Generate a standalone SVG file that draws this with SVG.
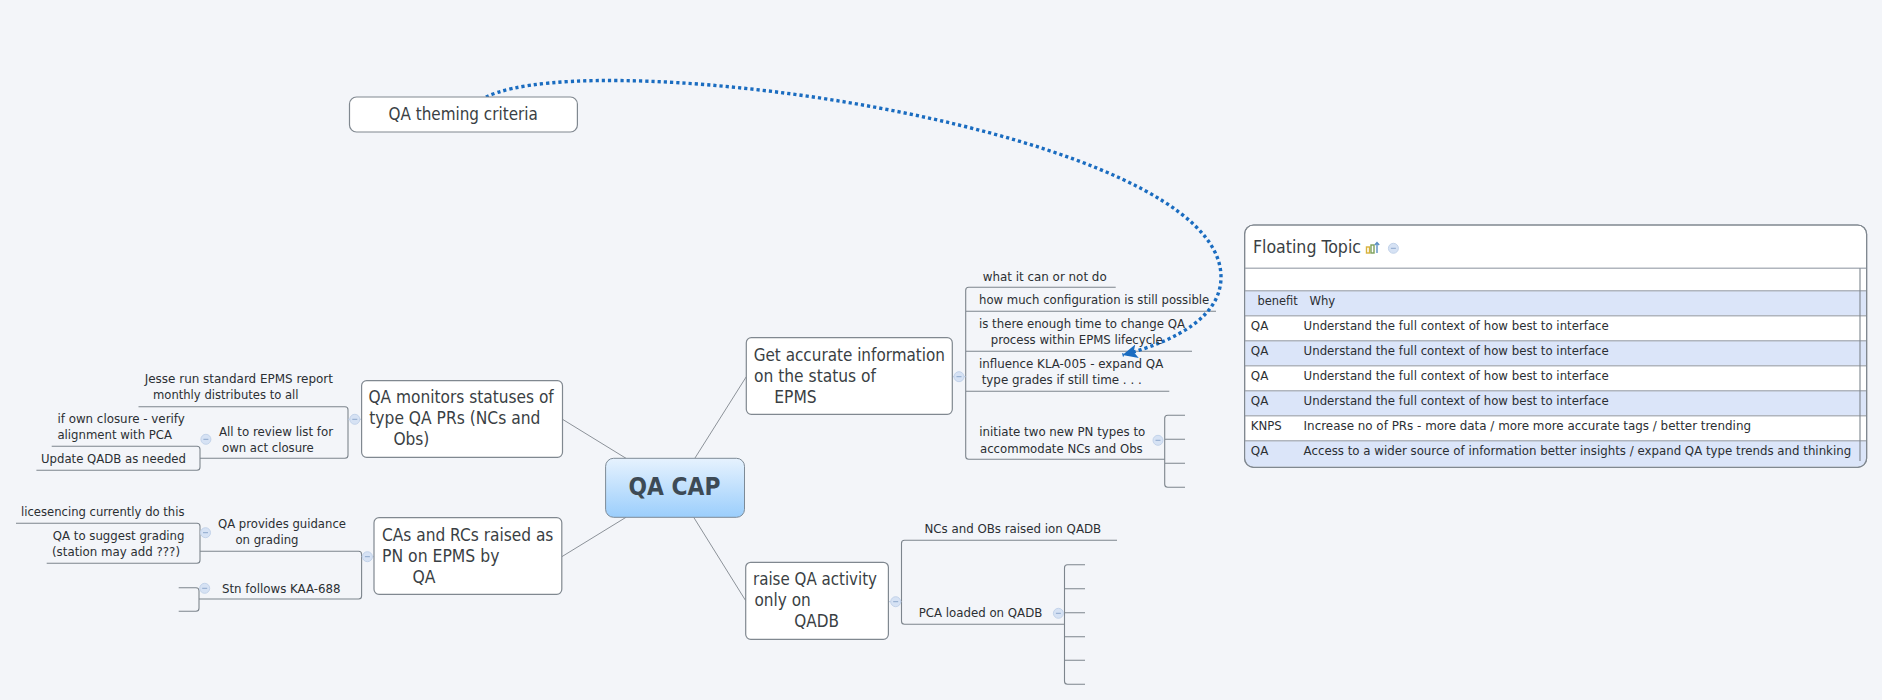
<svg xmlns="http://www.w3.org/2000/svg" width="1882" height="700" viewBox="0 0 1882 700">
<style>
text{font-family:"DejaVu Sans Condensed","DejaVu Sans","Liberation Sans",sans-serif;font-stretch:condensed;fill:#2b2f33}
.s{font-size:13px}
.m{font-size:17px;fill:#3a3f44}
.t{font-size:13px}
.r{font-size:25px;font-weight:700;fill:#3d4a55}
.box{fill:#fff;stroke:#808890;stroke-width:1.2}
.ln{fill:none;stroke:#7d858d;stroke-width:1.1}
.root{stroke:#7d8a96;stroke-width:1}
.lnk{fill:none;stroke:#8c9299;stroke-width:1}
.band{fill:#dbe5f9}
.sep{stroke:#b0b5bd;stroke-width:1.6}
.rel{fill:none;stroke:#1a6cc0;stroke-width:3.4;stroke-dasharray:3.2 3}
.stub{stroke:#b7c9e2;stroke-width:1}
</style>
<defs>
<linearGradient id="rootFill" x1="0" y1="0" x2="0" y2="1"><stop offset="0" stop-color="#e6f2fe"/><stop offset="1" stop-color="#9bcefc"/></linearGradient>
<marker id="arrow" markerUnits="userSpaceOnUse" markerWidth="18" markerHeight="16" refX="15" refY="7" orient="auto"><path d="M0,0 L15,7 L0,14 L3.5,7 Z" fill="#1a6cc0"/></marker>
<g id="collapse"><circle r="5" fill="#d6e2f4" stroke="#c3d3ea"/><line x1="-2.5" x2="2.5" stroke="#8ea8cc"/></g>
</defs>
<rect width="1882" height="700" fill="#f3f5f9"/>
<g id="connectors">
<path class="lnk" d="M562.5,419.3 L626,458.3"/>
<path class="lnk" d="M561.8,556.7 L626,517.3"/>
<path class="lnk" d="M746.3,376.7 L694.8,458.3"/>
<path class="lnk" d="M693.7,517.3 L745.7,600.7"/>
<path class="ln" d="M138.5,406.7 H345 q3,0 3,3 V455.3 q0,3 -3,3 H200"/>
<path class="ln" d="M51.7,446.3 H197 q3,0 3,3 V467.3 q0,3 -3,3 H36.4"/>
<path class="ln" d="M16,523.3 H197 q3,0 3,3 V560.3 q0,3 -3,3 H46.7"/>
<path class="ln" d="M200,551.3 H358.6 q3,0 3,3 V596 q0,3 -3,3 H199"/>
<path class="ln" d="M178.7,587.7 H196 q3,0 3,3 V608.3 q0,3 -3,3 H178.7"/>
<path class="ln" d="M1117,540.3 H904.5 q-3,0 -3,3 V621.3 q0,3 3,3 H1064.5"/>
<path class="ln" d="M1085,564.7 H1067.5 q-3,0 -3,3 V681.3 q0,3 3,3 H1085 M1064.5,588.7 H1085 M1064.5,612.7 H1085 M1064.5,636.7 H1085 M1064.5,660.3 H1085"/>
<path class="ln" d="M1115.7,287.3 H968.7 q-3,0 -3,3 V456.3 q0,3 3,3 H1164.7 M965.7,311.3 H1216 M965.7,351.3 H1192 M965.7,391.3 H1169.3"/>
<path class="ln" d="M1185,415.3 H1167.7 q-3,0 -3,3 V484.3 q0,3 3,3 H1185 M1164.7,439.3 H1185 M1164.7,463.3 H1185"/>
<path class="stub" d="M348,419.3 H361.6 M361.6,556.7 H374 M952.3,376.7 H965.7 M888.4,601.7 H901.5"/>
<path class="rel" marker-end="url(#arrow)" d="M486,97 C600,42 1221,130 1221,277 C1221,315 1180,340 1122.5,355"/>
</g>
<g id="root"><rect class="root" x="605.6" y="458.3" width="138.9" height="59" rx="8" fill="url(#rootFill)"/><text class="r" x="628.6" y="495" textLength="91.8" lengthAdjust="spacingAndGlyphs">QA CAP</text></g>
<g id="theming"><rect class="box" x="349.5" y="97" width="227.9" height="35" rx="7"/><text class="m" x="388.5" y="120" textLength="149.3" lengthAdjust="spacingAndGlyphs">QA theming criteria</text></g>
<g id="monitors"><rect class="box" x="361.6" y="380.7" width="200.9" height="76.6" rx="5"/>
<text class="m" x="368.5" y="402.7" textLength="185.3" lengthAdjust="spacingAndGlyphs">QA monitors statuses of</text>
<text class="m" x="369.3" y="423.7" textLength="171.1" lengthAdjust="spacingAndGlyphs">type QA PRs (NCs and</text>
<text class="m" x="393.4" y="444.7" textLength="36" lengthAdjust="spacingAndGlyphs">Obs)</text>
<use href="#collapse" x="354.8" y="419.3"/></g>
<g id="cas"><rect class="box" x="374" y="517.7" width="187.8" height="76.6" rx="5"/>
<text class="m" x="382" y="541.3" textLength="171.4" lengthAdjust="spacingAndGlyphs">CAs and RCs raised as</text>
<text class="m" x="382" y="562" textLength="117.4" lengthAdjust="spacingAndGlyphs">PN on EPMS by</text>
<text class="m" x="412.5" y="582.5" textLength="23" lengthAdjust="spacingAndGlyphs">QA</text>
<use href="#collapse" x="367.4" y="556.7"/></g>
<g id="raise"><rect class="box" x="745.7" y="562.3" width="142.7" height="77" rx="5"/>
<text class="m" x="753" y="585" textLength="124" lengthAdjust="spacingAndGlyphs">raise QA activity</text>
<text class="m" x="754.5" y="606" textLength="56.3" lengthAdjust="spacingAndGlyphs">only on</text>
<text class="m" x="794.3" y="627" textLength="44.7" lengthAdjust="spacingAndGlyphs">QADB</text>
<use href="#collapse" x="895.7" y="601.7"/></g>
<g id="accurate"><rect class="box" x="746.3" y="337.7" width="206" height="76.6" rx="5"/>
<text class="m" x="753.7" y="361" textLength="191.3" lengthAdjust="spacingAndGlyphs">Get accurate information</text>
<text class="m" x="754" y="382" textLength="122" lengthAdjust="spacingAndGlyphs">on the status of</text>
<text class="m" x="774.3" y="402.7" textLength="42.4" lengthAdjust="spacingAndGlyphs">EPMS</text>
<use href="#collapse" x="959" y="376.7"/></g>
<g id="jesse"><text class="s" x="144.7" y="383" textLength="188.3" lengthAdjust="spacingAndGlyphs">Jesse run standard EPMS report</text><text class="s" x="153" y="399" textLength="145.5" lengthAdjust="spacingAndGlyphs">monthly distributes to all</text></g>
<g id="review"><text class="s" x="219" y="436" textLength="114" lengthAdjust="spacingAndGlyphs">All to review list for</text><text class="s" x="222" y="452" textLength="91.8" lengthAdjust="spacingAndGlyphs">own act closure</text><use href="#collapse" x="205.9" y="439.3"/></g>
<g id="ownclosure"><text class="s" x="57.4" y="423" textLength="127.4" lengthAdjust="spacingAndGlyphs">if own closure - verify</text><text class="s" x="57.4" y="439" textLength="114.6" lengthAdjust="spacingAndGlyphs">alignment with PCA</text></g>
<g id="updateqadb"><text class="s" x="41" y="463" textLength="145" lengthAdjust="spacingAndGlyphs">Update QADB as needed</text></g>
<g id="licensing"><text class="s" x="21" y="516" textLength="163.5" lengthAdjust="spacingAndGlyphs">licesencing currently do this</text></g>
<g id="suggest"><text class="s" x="52.8" y="540" textLength="131.7" lengthAdjust="spacingAndGlyphs">QA to suggest grading</text><text class="s" x="52" y="556" textLength="128" lengthAdjust="spacingAndGlyphs">(station may add ???)</text></g>
<g id="guidance"><text class="s" x="218" y="527.7" textLength="128" lengthAdjust="spacingAndGlyphs">QA provides guidance</text><text class="s" x="235.4" y="543.7" textLength="63.1" lengthAdjust="spacingAndGlyphs">on grading</text><use href="#collapse" x="205.5" y="532.7"/></g>
<g id="kaa"><text class="s" x="222" y="593.3" textLength="118.6" lengthAdjust="spacingAndGlyphs">Stn follows KAA-688</text><use href="#collapse" x="204.7" y="588.3"/></g>
<g id="ncsobs"><text class="s" x="924.4" y="533.3" textLength="176.8" lengthAdjust="spacingAndGlyphs">NCs and OBs raised ion QADB</text></g>
<g id="pca"><text class="s" x="918.7" y="617.3" textLength="123.6" lengthAdjust="spacingAndGlyphs">PCA loaded on QADB</text><use href="#collapse" x="1058.4" y="613.3"/></g>
<g id="cando"><text class="s" x="982.7" y="281" textLength="124" lengthAdjust="spacingAndGlyphs">what it can or not do</text></g>
<g id="config"><text class="s" x="979" y="304.3" textLength="230.3" lengthAdjust="spacingAndGlyphs">how much configuration is still possible</text></g>
<g id="time"><text class="s" x="979" y="327.7" textLength="206" lengthAdjust="spacingAndGlyphs">is there enough time to change QA</text><text class="s" x="990.7" y="344" textLength="172" lengthAdjust="spacingAndGlyphs">process within EPMS lifecycle</text></g>
<g id="influence"><text class="s" x="979" y="368" textLength="184.3" lengthAdjust="spacingAndGlyphs">influence KLA-005 - expand QA</text><text class="s" x="981.7" y="384" textLength="160" lengthAdjust="spacingAndGlyphs">type grades if still time . . .</text></g>
<g id="initiate"><text class="s" x="979.3" y="435.7" textLength="166" lengthAdjust="spacingAndGlyphs">initiate two new PN types to</text><text class="s" x="980" y="453" textLength="162.7" lengthAdjust="spacingAndGlyphs">accommodate NCs and Obs</text><use href="#collapse" x="1158" y="440.3"/></g>
<g id="floating">
<rect class="box" x="1244.6" y="225" width="622" height="242.3" rx="9"/>
<rect class="band" x="1245.2" y="290.7" width="620.8" height="25"/>
<rect class="band" x="1245.2" y="340.7" width="620.8" height="25"/>
<rect class="band" x="1245.2" y="390.7" width="620.8" height="25"/>
<path class="band" d="M1245.2,440.7 H1866 V458 q0,8.7 -8.7,8.7 H1254 q-8.8,0 -8.8,-8.7 Z"/>
<path class="sep" d="M1245,268.3 H1866.6 M1245,290.7 H1866.6 M1245,315.7 H1866.6 M1245,340.7 H1866.6 M1245,365.7 H1866.6 M1245,390.7 H1866.6 M1245,415.7 H1866.6 M1245,440.7 H1866.6"/>
<line class="ln" x1="1860" y1="268.3" x2="1860" y2="461"/>
<rect x="1244.6" y="225" width="622" height="242.3" rx="9" fill="none" stroke="#808890" stroke-width="1.2"/>
<text class="m" x="1252.9" y="252.7" textLength="108.1" lengthAdjust="spacingAndGlyphs">Floating Topic</text>
<g fill="none" stroke-width="1.4"><rect x="1366.5" y="247" width="3" height="6" stroke="#d8b23c"/><rect x="1371" y="245" width="3" height="8" stroke="#7ca05a"/><path d="M1377,253 V243 M1374.8,245 L1377,242.5 L1379.2,245" stroke="#5b8fc4"/></g>
<use href="#collapse" x="1393.4" y="248.3"/>
<text class="t" x="1257.4" y="305" textLength="40.3" lengthAdjust="spacingAndGlyphs">benefit</text><text class="t" x="1309.4" y="305" textLength="25.8" lengthAdjust="spacingAndGlyphs">Why</text>
<text class="t" x="1250.8" y="330" textLength="17.5" lengthAdjust="spacingAndGlyphs">QA</text><text class="t" x="1303.6" y="330" textLength="305.2" lengthAdjust="spacingAndGlyphs">Understand the full context of how best to interface</text>
<text class="t" x="1250.8" y="355" textLength="17.5" lengthAdjust="spacingAndGlyphs">QA</text><text class="t" x="1303.6" y="355" textLength="305.2" lengthAdjust="spacingAndGlyphs">Understand the full context of how best to interface</text>
<text class="t" x="1250.8" y="380" textLength="17.5" lengthAdjust="spacingAndGlyphs">QA</text><text class="t" x="1303.6" y="380" textLength="305.2" lengthAdjust="spacingAndGlyphs">Understand the full context of how best to interface</text>
<text class="t" x="1250.8" y="405" textLength="17.5" lengthAdjust="spacingAndGlyphs">QA</text><text class="t" x="1303.6" y="405" textLength="305.2" lengthAdjust="spacingAndGlyphs">Understand the full context of how best to interface</text>
<text class="t" x="1250.8" y="430" textLength="31" lengthAdjust="spacingAndGlyphs">KNPS</text><text class="t" x="1303.6" y="430" textLength="447.4" lengthAdjust="spacingAndGlyphs">Increase no of PRs - more data / more more accurate tags / better trending</text>
<text class="t" x="1250.8" y="455" textLength="17.5" lengthAdjust="spacingAndGlyphs">QA</text><text class="t" x="1303.6" y="455" textLength="547.6" lengthAdjust="spacingAndGlyphs">Access to a wider source of information better insights / expand QA type trends and thinking</text>
</g>
</svg>
